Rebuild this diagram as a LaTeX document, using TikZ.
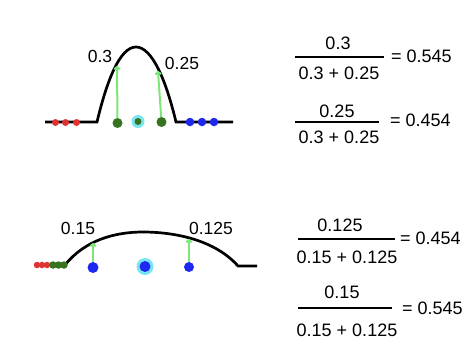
\documentclass[tikz,border=0pt]{standalone}
\usepackage{fontspec}
\setmainfont{Liberation Sans}
\usetikzlibrary{arrows.meta}
\definecolor{dotred}{RGB}{225,50,50}
\definecolor{dotblue}{RGB}{30,40,240}
\definecolor{dotgreen}{RGB}{55,115,30}
\definecolor{halo}{RGB}{120,230,240}
\definecolor{arrgreen}{RGB}{125,230,120}
\tikzset{
  curve/.style={line width=2.7pt, black},
  dot/.style={circle, inner sep=0pt, minimum size=#1},
  reddot/.style={dot=7pt, fill=dotred},
  bluedot/.style={dot=#1, fill=dotblue},
  greendot/.style={dot=#1, fill=dotgreen},
  haloring/.style={circle, inner sep=0pt, minimum size=#1, fill=halo},
  prob/.style={draw=arrgreen, line width=2pt, -{To[length=4pt,width=7pt]}},
  lbl/.style={font=\fontsize{17.5}{19}\selectfont, inner sep=0pt},
  txt/.style={font=\fontsize{18}{20}\selectfont, inner sep=0pt},
  bar/.style={line width=1.7pt, black}
}
\begin{document}
\begin{tikzpicture}[x=1pt,y=-1pt]
\useasboundingbox (0,0) rectangle (474,360);
% ---------- top panel ----------
\draw[curve] (45,122) -- (97,122) .. controls (107,80) and (120,47) .. (136,47)
  .. controls (152,47) and (166,80) .. (176,122) -- (233,122);
\node[reddot] (r1) at (55.5,122.5) {};
\node[reddot] (r2) at (65.5,122.5) {};
\node[reddot] (r3) at (76.5,122.5) {};
\node[bluedot=8.5pt] (b1) at (190,122) {};
\node[bluedot=8.5pt] (b2) at (202,122) {};
\node[bluedot=8.5pt] (b3) at (214,122) {};
\node[greendot=10pt] (g1) at (117.5,123) {};
\node[haloring=13pt] (h1) at (138,121.5) {};
\node[greendot=7pt] (g2) at (138,121.5) {};
\node[greendot=10pt] (g3) at (161.5,122) {};
\coordinate (t1) at (117,66);
\coordinate (t2) at (158,71);
\draw[prob] (g1) -- (t1);
\draw[prob] (g3) -- (t2);
\node[lbl] (l1) at (100,56) {0.3};
\node[lbl] (l2) at (182,63) {0.25};
% ---------- top formulas ----------
\node[txt] (n1) at (338,43) {0.3};
\coordinate (a1) at (295,57); \coordinate (a2) at (384,57);
\draw[bar] (a1) -- (a2);
\node[txt] (d1) at (339,73) {0.3 + 0.25};
\node[txt, anchor=west] (e1) at (391,56) {= 0.545};
\node[txt] (n2) at (337,111) {0.25};
\coordinate (a3) at (295,122); \coordinate (a4) at (379,122);
\draw[bar] (a3) -- (a4);
\node[txt] (d2) at (339,137) {0.3 + 0.25};
\node[txt, anchor=west] (e2) at (390,120) {= 0.454};
% ---------- bottom panel ----------
\draw[curve] (65,265) .. controls (85,240) and (115,232) .. (143,232)
  .. controls (175,232) and (215,240) .. (238,266) -- (257,266);
\node[dot=6.5pt, fill=dotred] (r4) at (37,265) {};
\node[dot=6.5pt, fill=dotred] (r5) at (42,265) {};
\node[dot=6.5pt, fill=dotred] (r6) at (47,265) {};
\node[greendot=7.5pt] (g4) at (53,265) {};
\node[greendot=7.5pt] (g5) at (58.5,265) {};
\node[greendot=7.5pt] (g6) at (64,265) {};
\node[bluedot=11pt] (b4) at (93,267.5) {};
\node[haloring=17pt] (h2) at (145,266.5) {};
\node[bluedot=11pt] (b5) at (145,266.5) {};
\node[bluedot=10pt] (b6) at (189,267) {};
\coordinate (t3) at (93,243);
\coordinate (t4) at (189,239);
\draw[prob] (b4) -- (t3);
\draw[prob] (b6) -- (t4);
\node[lbl] (l3) at (78,228) {0.15};
\node[lbl] (l4) at (211,228) {0.125};
% ---------- bottom formulas ----------
\node[txt] (n3) at (340,225) {0.125};
\coordinate (a5) at (298,239); \coordinate (a6) at (395,239);
\draw[bar] (a5) -- (a6);
\node[txt] (d3) at (347,257) {0.15 + 0.125};
\node[txt, anchor=west] (e3) at (400,238) {= 0.454};
\node[txt] (n4) at (342,292) {0.15};
\coordinate (a7) at (298,308); \coordinate (a8) at (392,308);
\draw[bar] (a7) -- (a8);
\node[txt] (d4) at (347,330) {0.15 + 0.125};
\node[txt, anchor=west] (e4) at (402,308) {= 0.545};
\end{tikzpicture}
\end{document}
